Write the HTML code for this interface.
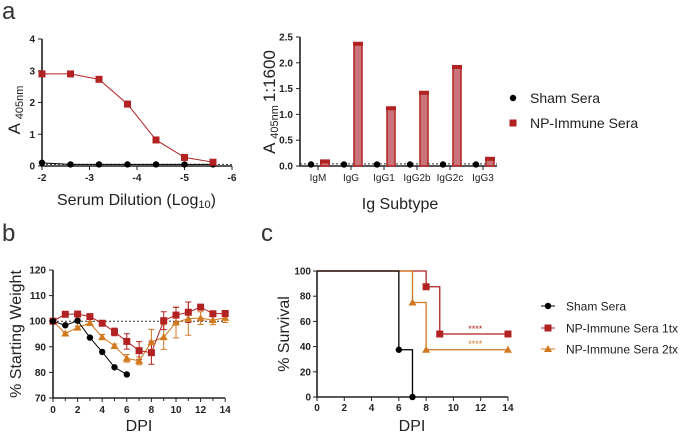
<!DOCTYPE html>
<html><head><meta charset="utf-8">
<style>
body{margin:0;background:#fff;}
svg{display:block;font-family:"Liberation Sans",Arial,sans-serif;}
.tk{font-size:10px;font-weight:bold;fill:#222;}
.ax{stroke:#222;stroke-width:1.6;fill:none;}
</style></head>
<body>
<svg id="s" width="685" height="435" viewBox="0 0 685 435">
<text x="2" y="19" font-size="24" fill="#333">a</text>
<text x="2" y="241" font-size="24" fill="#333">b</text>
<text x="261" y="241" font-size="24" fill="#333">c</text>
<g id="ga"></g>
<g id="gb"></g>
<g id="gc"></g>
<g id="gd"></g>
</svg>
<script>
// Panel a data
const dilX=[-2,-2.6,-3.2,-3.8,-4.4,-5,-5.6];
const dilImmune=[2.9,2.9,2.73,1.95,0.82,0.27,0.12];
const dilSham=[0.1,0.05,0.05,0.05,0.05,0.05,0.05];
const dilTicks=[-2,-3,-4,-5,-6];
const aTicks=[0,1,2,3,4];
// Panel a2 data
const igCats=["IgM","IgG","IgG1","IgG2b","IgG2c","IgG3"];
const igImmune=[0.07,2.35,1.1,1.4,1.9,0.12];
const igSham=[0.03,0.03,0.03,0.03,0.03,0.03];
const igTicks=["0.0","0.5","1.0","1.5","2.0","2.5"];
// Panel b data
const days=[0,1,2,3,4,5,6,7,8,9,10,11,12,13,14];
const wImmune1=[100,102.7,102.8,101.8,99.2,95.8,92.1,88.5,87.7,100.2,102.4,103.5,105.5,102.9,103];
const wImmune1Err=[0,0.5,0.5,0.8,0.6,1.5,3,3.5,4.5,3.5,3,4,1,1,1];
const wImmune2=[100,95.2,97.5,99.3,93.8,90.3,85.5,84.5,91.8,93.8,99.5,101,101.2,100.4,101.3];
const wImmune2Err=[0,0.5,0.6,0.6,1,0.8,1.5,1.5,5,4.8,6,6.5,2.5,1.8,1.8];
const shamDays=[0,1,2,3,4,5,6];
const wSham=[100,98.4,100.2,93.6,88,82,79.2];
const wTicks=[70,80,90,100,110,120];
const dTicks=[0,2,4,6,8,10,12,14];
// Panel c data
const survShamT=[0,6,7];
const survShamV=[100,37.5,0];
const surv1T=[0,8,9,14];
const surv1V=[100,87.5,50,50];
const surv2T=[0,7,8,14];
const surv2V=[100,75,37.5,37.5];
const sTicks=[0,20,40,60,80,100];

const NS="http://www.w3.org/2000/svg";
function el(p,t,a){const e=document.createElementNS(NS,t);for(const k in a)e.setAttribute(k,a[k]);p.appendChild(e);return e;}
function txt(p,x,y,s,a){const e=el(p,"text",Object.assign({x:x,y:y},a||{}));e.textContent=String(s);return e;}
const RED="#b22222",ORG="#d2781e";
function sq(g,x,y,c){const e=el(g,"rect",{x:x-3.5,y:y-3.5,width:7,height:7,fill:c});

}
function dot(g,x,y){const e=el(g,"circle",{cx:x,cy:y,r:3.2,fill:"#000"});

}
function tri(g,x,y,c){const e=el(g,"polygon",{points:`${x},${y-4} ${x-4},${y+3} ${x+4},${y+3}`,fill:c});

}

// ---- Panel a
(function(){
const g=document.getElementById('ga');
const X=v=>42+(-v-2)*47.5, Y=v=>166-v*31.75;
el(g,"line",{x1:42,y1:Y(0.05),x2:232,y2:Y(0.05),stroke:"#333","stroke-dasharray":"2,2"});
el(g,"path",{d:"M42,39V166H232",class:"ax"});
aTicks.forEach(t=>{el(g,"line",{x1:38,x2:42,y1:Y(t),y2:Y(t),stroke:"#222"});txt(g,35,Y(t)+3.5,t,{class:"tk","text-anchor":"end"});});
dilTicks.forEach(t=>{el(g,"line",{x1:X(t),x2:X(t),y1:166,y2:170,stroke:"#222"});txt(g,X(t),181,t,{class:"tk","text-anchor":"middle"});});
el(g,"polyline",{points:dilSham.map((v,i)=>X(dilX[i])+","+Y(v)).join(" "),fill:"none",stroke:"#000","stroke-width":1});
el(g,"polyline",{points:dilImmune.map((v,i)=>X(dilX[i])+","+Y(v)).join(" "),fill:"none",stroke:RED,"stroke-width":1});
dilSham.forEach((v,i)=>dot(g,X(dilX[i]),Y(v)));
dilImmune.forEach((v,i)=>sq(g,X(dilX[i]),Y(v),RED));
const t=txt(g,57,205,"Serum Dilution (Log",{"font-size":"16",fill:"#222"});
const ts=el(t,"tspan",{"font-size":"11",dy:"3"});ts.textContent="10";
const te=el(t,"tspan",{dy:"-3"});te.textContent=")";
const yl=txt(g,0,0,"A ",{"font-size":"17",fill:"#222",transform:"translate(20,110) rotate(-90)","text-anchor":"middle"});
const yls=el(yl,"tspan",{"font-size":"11",dy:"3"});yls.textContent="405nm";
})();

// ---- Panel a2
(function(){
const g=document.getElementById('gb');
const X=i=>318+i*33, Y=v=>166-v*51.6;
el(g,"line",{x1:300,y1:Y(0.04),x2:497,y2:Y(0.04),stroke:"#333","stroke-dasharray":"2,2"});
el(g,"path",{d:"M300,37V166H497",class:"ax"});
igTicks.forEach(t=>{const v=parseFloat(t);el(g,"line",{x1:296,x2:300,y1:Y(v),y2:Y(v),stroke:"#222"});txt(g,293,Y(v)+3.5,t,{class:"tk","text-anchor":"end"});});
igCats.forEach((c,i)=>{
 el(g,"line",{x1:X(i),x2:X(i),y1:166,y2:170,stroke:"#222"});
 txt(g,X(i),181,c,{"font-size":"10",fill:"#222","text-anchor":"middle"});
 const b=el(g,"rect",{x:X(i)+3,y:Y(igImmune[i]),width:8,height:166-Y(igImmune[i]),fill:"#c9737a",stroke:RED,"stroke-width":1.5});
 
 
 el(g,"rect",{x:X(i)+2,y:Y(igImmune[i])-3,width:10,height:4,fill:RED});
 dot(g,X(i)-7,Y(igSham[i]));
});
txt(g,400,209,"Ig Subtype",{"font-size":"16",fill:"#222","text-anchor":"middle"});
const yl=txt(g,0,0,"A ",{"font-size":"17",fill:"#222",transform:"translate(275,102) rotate(-90)","text-anchor":"middle"});
const s1=el(yl,"tspan",{"font-size":"11",dy:"3"});s1.textContent="405nm ";
const s2=el(yl,"tspan",{dy:"-3"});s2.textContent="1:1600";
dot(g,513,98);txt(g,530,103,"Sham Sera",{"font-size":"14",fill:"#222"});
sq(g,513,123,RED);txt(g,530,128,"NP-Immune Sera",{"font-size":"14",fill:"#222"});
})();

// ---- Panel b
(function(){
const g=document.getElementById('gc');
const X=d=>53+d*12.3, Y=v=>398-(v-70)*2.56;
el(g,"line",{x1:53,y1:Y(100),x2:225,y2:Y(100),stroke:"#333","stroke-dasharray":"2,2"});
el(g,"path",{d:"M53,270V398H225",class:"ax"});
wTicks.forEach(t=>{el(g,"line",{x1:49,x2:53,y1:Y(t),y2:Y(t),stroke:"#222"});txt(g,46,Y(t)+3.5,t,{class:"tk","text-anchor":"end"});});
days.forEach(d=>{el(g,"line",{x1:X(d),x2:X(d),y1:398,y2:(d%2?401:402),stroke:"#222"});});
dTicks.forEach(d=>txt(g,X(d),413,d,{class:"tk","text-anchor":"middle"}));
function err(v,e,c){v.forEach((y,i)=>{if(e[i]>0){el(g,"path",{d:`M${X(days[i])},${Y(y-e[i])}V${Y(y+e[i])}M${X(days[i])-3},${Y(y-e[i])}h6M${X(days[i])-3},${Y(y+e[i])}h6`,stroke:c,"stroke-width":1,fill:"none"});}});}
err(wImmune2,wImmune2Err,ORG);err(wImmune1,wImmune1Err,RED);
el(g,"polyline",{points:wImmune2.map((v,i)=>X(days[i])+","+Y(v)).join(" "),fill:"none",stroke:ORG});
el(g,"polyline",{points:wImmune1.map((v,i)=>X(days[i])+","+Y(v)).join(" "),fill:"none",stroke:RED});
el(g,"polyline",{points:wSham.map((v,i)=>X(shamDays[i])+","+Y(v)).join(" "),fill:"none",stroke:"#000"});
wImmune2.forEach((v,i)=>tri(g,X(days[i]),Y(v),ORG));
wImmune1.forEach((v,i)=>sq(g,X(days[i]),Y(v),RED));
wSham.forEach((v,i)=>dot(g,X(shamDays[i]),Y(v)));
txt(g,139,431,"DPI",{"font-size":"16",fill:"#222","text-anchor":"middle"});
txt(g,0,0,"% Starting Weight",{"font-size":"16",fill:"#222",transform:"translate(21,334) rotate(-90)","text-anchor":"middle"});
})();

// ---- Panel c
(function(){
const g=document.getElementById('gd');
const X=d=>317+d*13.64, Y=v=>397-v*1.26;
el(g,"path",{d:"M317,271V397H508",class:"ax"});
sTicks.forEach(t=>{el(g,"line",{x1:313,x2:317,y1:Y(t),y2:Y(t),stroke:"#222"});txt(g,311,Y(t)+3.5,t,{class:"tk","text-anchor":"end"});});
dTicks.forEach(d=>{el(g,"line",{x1:X(d),x2:X(d),y1:397,y2:401,stroke:"#222"});txt(g,X(d),411,d,{class:"tk","text-anchor":"middle"});});
function step(T,V,c){let d=`M${X(T[0])},${Y(V[0])}`;for(let i=1;i<T.length;i++){d+=`H${X(T[i])}V${Y(V[i])}`;}el(g,"path",{d:d,fill:"none",stroke:c,"stroke-width":1.3});}
step(surv1T,surv1V,RED);step(surv2T,surv2V,ORG);step(survShamT,survShamV,"#000");
for(let i=1;i<surv1T.length;i++)sq(g,X(surv1T[i]),Y(surv1V[i]),RED);
for(let i=1;i<surv2T.length;i++)tri(g,X(surv2T[i]),Y(surv2V[i]),ORG);
for(let i=1;i<survShamT.length;i++)dot(g,X(survShamT[i]),Y(survShamV[i]));
txt(g,X(11.6),Y(50)-2,"****",{"font-size":"9",fill:RED,"text-anchor":"middle"});
txt(g,X(11.6),Y(37.5)-3,"****",{"font-size":"9",fill:ORG,"text-anchor":"middle"});
txt(g,412,431,"DPI",{"font-size":"16",fill:"#222","text-anchor":"middle"});
txt(g,0,0,"% Survival",{"font-size":"16",fill:"#222",transform:"translate(289,334) rotate(-90)","text-anchor":"middle"});
const L=[["Sham Sera","#000",306,dot],["NP-Immune Sera 1tx",RED,328,sq],["NP-Immune Sera 2tx",ORG,349,tri]];
L.forEach(l=>{el(g,"line",{x1:541,x2:555,y1:l[2],y2:l[2],stroke:l[1]});l[3](g,548,l[2],l[1]);txt(g,566,l[2]+4.5,l[0],{"font-size":"12",fill:"#222"});});
})();
</script>
</body></html>
